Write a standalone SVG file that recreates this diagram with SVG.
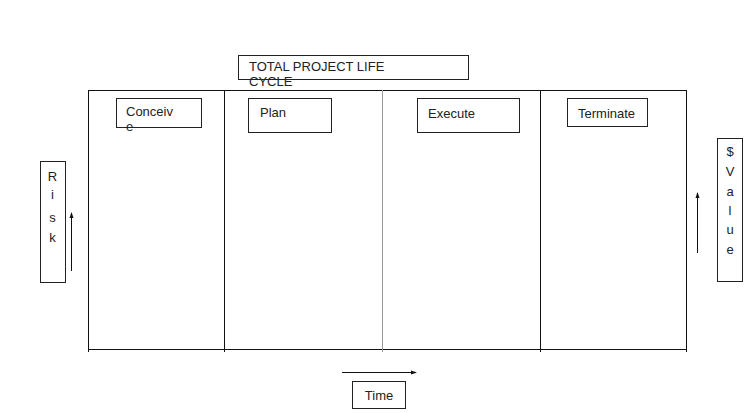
<svg xmlns="http://www.w3.org/2000/svg" width="744" height="413" viewBox="0 0 744 413">
<style>
.b{fill:#fff;stroke:#222;stroke-width:1}
.l{stroke:#111;stroke-width:1;fill:none}
.g{stroke:#999;stroke-width:1;fill:none}
text{font-family:"Liberation Sans",Arial,sans-serif;font-size:13px;fill:#222}
</style>
<defs><marker id="a" markerWidth="6" markerHeight="6" refX="5" refY="3" orient="auto"><path d="M0,1 L6,3 L0,5z" fill="#111"/></marker></defs>
<rect width="744" height="413" fill="#fff"/>
<g id="frame">
<path class="l" d="M88,90.5 H686 M88.5,90 V352 M224.5,90 V352 M540.5,90 V352 M686.5,90 V352 M88,349.5 H686"/>
<path class="g" d="M382.5,90 V352"/>
</g>
<g id="title"><rect class="b" x="238.5" y="55.5" width="230" height="24"/><text x="249" y="71">TOTAL PROJECT LIFE</text><text x="249" y="86">CYCLE</text></g>
<g id="conceive"><rect class="b" x="116.5" y="98.5" width="85" height="29"/><text x="126" y="116">Conceiv</text><text x="126" y="131">e</text></g>
<g id="plan"><rect class="b" x="248.5" y="98.5" width="83" height="34"/><text x="260" y="117">Plan</text></g>
<g id="execute"><rect class="b" x="417.5" y="98.5" width="102" height="34"/><text x="428" y="118">Execute</text></g>
<g id="terminate"><rect class="b" x="567.5" y="98.5" width="80" height="28"/><text x="578" y="118">Terminate</text></g>
<g id="risk"><rect class="b" x="40.5" y="161.5" width="25" height="121"/>
<text x="52.5" text-anchor="middle"><tspan x="52.5" y="181">R</tspan><tspan x="52.5" y="199">i</tspan><tspan x="52.5" y="222">s</tspan><tspan x="52.5" y="242">k</tspan></text></g>
<g id="value"><rect class="b" x="717.5" y="138.5" width="25" height="143"/>
<text text-anchor="middle"><tspan x="730" y="156">$</tspan><tspan x="730" y="176">V</tspan><tspan x="730" y="196">a</tspan><tspan x="730" y="215">l</tspan><tspan x="730" y="234">u</tspan><tspan x="730" y="254">e</tspan></text></g>
<g id="time"><rect class="b" x="352.5" y="381.5" width="53" height="27"/><text x="379" y="400" text-anchor="middle">Time</text></g>
<g id="connectors">
<path class="l" d="M71.5,271 V213" marker-end="url(#a)"/>
<path class="l" d="M697.5,253 V193" marker-end="url(#a)"/>
<path class="l" d="M342,372.5 H416" marker-end="url(#a)"/>
</g>
</svg>
